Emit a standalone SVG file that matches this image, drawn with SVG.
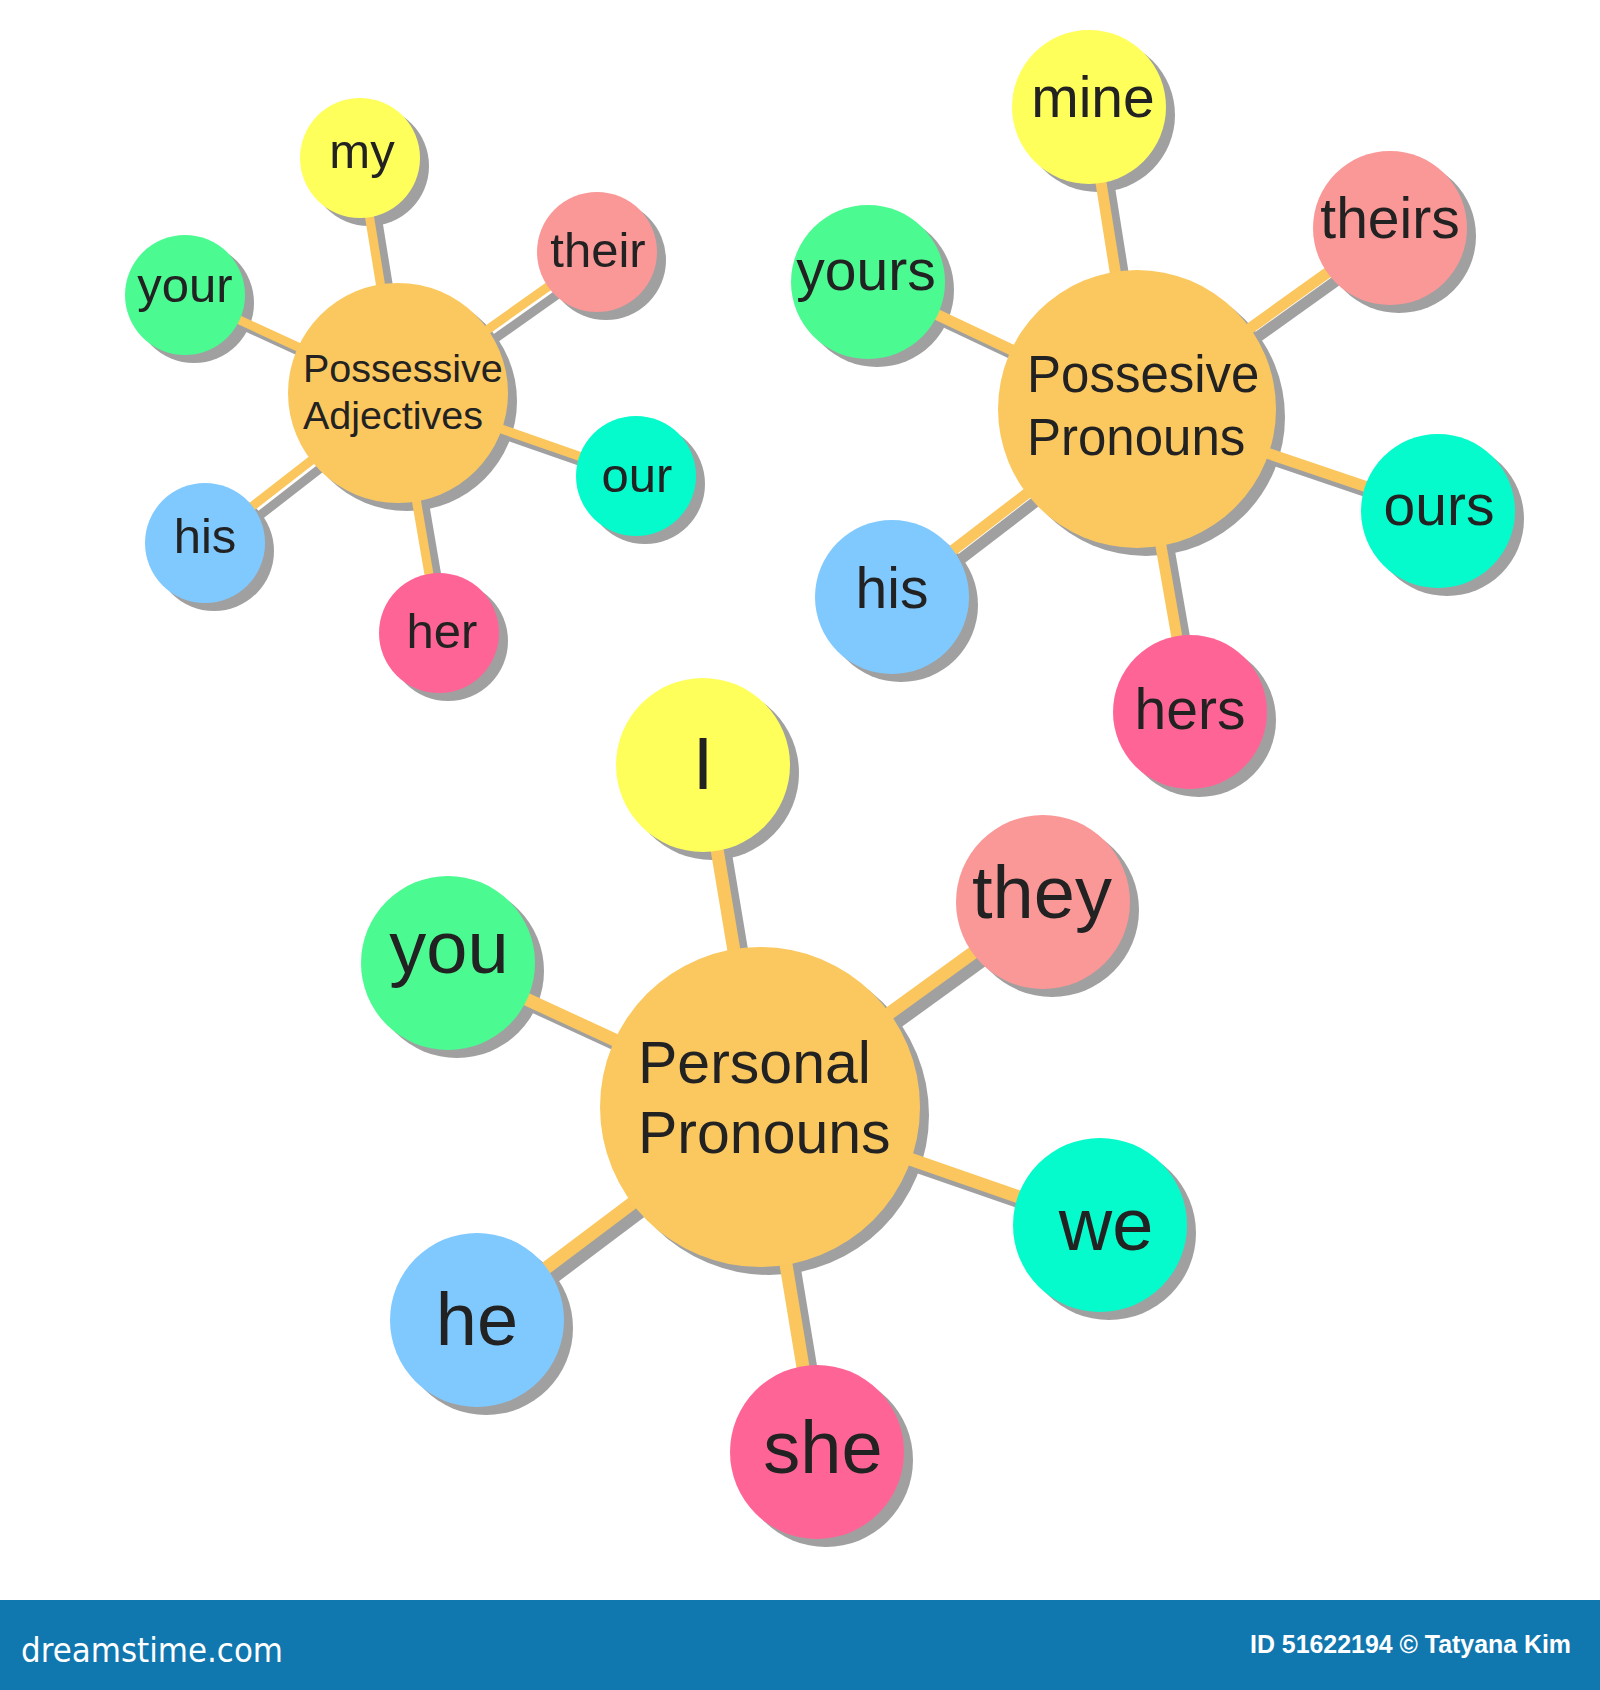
<svg xmlns="http://www.w3.org/2000/svg" width="1600" height="1690" viewBox="0 0 1600 1690">
<style>
.sh{fill:#a0a0a0}
.lsh{stroke:#a0a0a0;stroke-linecap:butt}
.ln{stroke:#fac65d;stroke-linecap:butt}
.hub{fill:#fbc85f}
.yel{fill:#ffff5c}
.sal{fill:#fa9797}
.grn{fill:#4bfa91}
.aqu{fill:#05fbcb}
.blu{fill:#80c9ff}
.mag{fill:#ff6497}
text{font-family:"Liberation Sans",Arial,sans-serif;fill:#222222}
.lA{font-size:49px;text-anchor:middle}
.lB{font-size:57px;text-anchor:middle}
.lC{font-size:74px;text-anchor:middle}
.hA{font-size:39.5px}
.hB{font-size:51px}
.hC{font-size:59px}
</style>
<rect width="1600" height="1690" fill="#ffffff"/>

<g id="shadows">
  <!-- connector shadows -->
  <g stroke-width="9" class="lsh" transform="translate(9,8)">
    <line x1="398" y1="393" x2="360" y2="158"/>
    <line x1="398" y1="393" x2="597" y2="252"/>
    <line x1="398" y1="393" x2="185" y2="295"/>
    <line x1="398" y1="393" x2="636" y2="476"/>
    <line x1="398" y1="393" x2="205" y2="543"/>
    <line x1="398" y1="393" x2="439" y2="633"/>
  </g>
  <g stroke-width="11" class="lsh" transform="translate(9,8)">
    <line x1="1137" y1="409" x2="1089" y2="107"/>
    <line x1="1137" y1="409" x2="1390" y2="228"/>
    <line x1="1137" y1="409" x2="868" y2="282"/>
    <line x1="1137" y1="409" x2="1438" y2="511"/>
    <line x1="1137" y1="409" x2="892" y2="597"/>
    <line x1="1137" y1="409" x2="1190" y2="712"/>
  </g>
  <g stroke-width="13" class="lsh" transform="translate(9,8)">
    <line x1="760" y1="1107" x2="703" y2="765"/>
    <line x1="760" y1="1107" x2="1043" y2="902"/>
    <line x1="760" y1="1107" x2="448" y2="963"/>
    <line x1="760" y1="1107" x2="1100" y2="1225"/>
    <line x1="760" y1="1107" x2="477" y2="1320"/>
    <line x1="760" y1="1107" x2="817" y2="1452"/>
  </g>
  <!-- circle shadows -->
  <g class="sh" transform="translate(9,8)">
    <circle cx="398" cy="393" r="110"/>
    <circle cx="360" cy="158" r="60"/>
    <circle cx="597" cy="252" r="60"/>
    <circle cx="185" cy="295" r="60"/>
    <circle cx="636" cy="476" r="60"/>
    <circle cx="205" cy="543" r="60"/>
    <circle cx="439" cy="633" r="60"/>
    <circle cx="1137" cy="409" r="139"/>
    <circle cx="1089" cy="107" r="77"/>
    <circle cx="1390" cy="228" r="77"/>
    <circle cx="868" cy="282" r="77"/>
    <circle cx="1438" cy="511" r="77"/>
    <circle cx="892" cy="597" r="77"/>
    <circle cx="1190" cy="712" r="77"/>
    <circle cx="760" cy="1107" r="160"/>
    <circle cx="703" cy="765" r="87"/>
    <circle cx="1043" cy="902" r="87"/>
    <circle cx="448" cy="963" r="87"/>
    <circle cx="1100" cy="1225" r="87"/>
    <circle cx="477" cy="1320" r="87"/>
    <circle cx="817" cy="1452" r="87"/>
  </g>
</g>

<g id="connectors">
  <g stroke-width="9" class="ln">
    <line x1="398" y1="393" x2="360" y2="158"/>
    <line x1="398" y1="393" x2="597" y2="252"/>
    <line x1="398" y1="393" x2="185" y2="295"/>
    <line x1="398" y1="393" x2="636" y2="476"/>
    <line x1="398" y1="393" x2="205" y2="543"/>
    <line x1="398" y1="393" x2="439" y2="633"/>
  </g>
  <g stroke-width="11" class="ln">
    <line x1="1137" y1="409" x2="1089" y2="107"/>
    <line x1="1137" y1="409" x2="1390" y2="228"/>
    <line x1="1137" y1="409" x2="868" y2="282"/>
    <line x1="1137" y1="409" x2="1438" y2="511"/>
    <line x1="1137" y1="409" x2="892" y2="597"/>
    <line x1="1137" y1="409" x2="1190" y2="712"/>
  </g>
  <g stroke-width="13" class="ln">
    <line x1="760" y1="1107" x2="703" y2="765"/>
    <line x1="760" y1="1107" x2="1043" y2="902"/>
    <line x1="760" y1="1107" x2="448" y2="963"/>
    <line x1="760" y1="1107" x2="1100" y2="1225"/>
    <line x1="760" y1="1107" x2="477" y2="1320"/>
    <line x1="760" y1="1107" x2="817" y2="1452"/>
  </g>
</g>

<!-- Possessive Adjectives cluster -->
<g id="possessive-adjectives">
  <circle class="hub" cx="398" cy="393" r="110"/>
  <text class="hA" x="303" y="382">Possessive</text>
  <text class="hA" x="303" y="429">Adjectives</text>
</g>
<g id="adj-my"><circle class="yel" cx="360" cy="158" r="60"/><text class="lA" x="362" y="168">my</text></g>
<g id="adj-their"><circle class="sal" cx="597" cy="252" r="60"/><text class="lA" x="598" y="267">their</text></g>
<g id="adj-your"><circle class="grn" cx="185" cy="295" r="60"/><text class="lA" x="185" y="302">your</text></g>
<g id="adj-our"><circle class="aqu" cx="636" cy="476" r="60"/><text class="lA" x="637" y="492">our</text></g>
<g id="adj-his"><circle class="blu" cx="205" cy="543" r="60"/><text class="lA" x="205" y="553">his</text></g>
<g id="adj-her"><circle class="mag" cx="439" cy="633" r="60"/><text class="lA" x="442" y="648">her</text></g>

<!-- Possesive Pronouns cluster -->
<g id="possessive-pronouns">
  <circle class="hub" cx="1137" cy="409" r="139"/>
  <text class="hB" x="1027" y="392">Possesive</text>
  <text class="hB" x="1027" y="455">Pronouns</text>
</g>
<g id="pro-mine"><circle class="yel" cx="1089" cy="107" r="77"/><text class="lB" x="1093" y="117">mine</text></g>
<g id="pro-theirs"><circle class="sal" cx="1390" cy="228" r="77"/><text class="lB" x="1390" y="238">theirs</text></g>
<g id="pro-yours"><circle class="grn" cx="868" cy="282" r="77"/><text class="lB" x="866" y="290">yours</text></g>
<g id="pro-ours"><circle class="aqu" cx="1438" cy="511" r="77"/><text class="lB" x="1439" y="525">ours</text></g>
<g id="pro-his"><circle class="blu" cx="892" cy="597" r="77"/><text class="lB" x="892" y="608">his</text></g>
<g id="pro-hers"><circle class="mag" cx="1190" cy="712" r="77"/><text class="lB" x="1190" y="729">hers</text></g>

<!-- Personal Pronouns cluster -->
<g id="personal-pronouns">
  <circle class="hub" cx="760" cy="1107" r="160"/>
  <text class="hC" x="638" y="1083">Personal</text>
  <text class="hC" x="638" y="1153">Pronouns</text>
</g>
<g id="per-i"><circle class="yel" cx="703" cy="765" r="87"/><text class="lC" x="703" y="789">I</text></g>
<g id="per-they"><circle class="sal" cx="1043" cy="902" r="87"/><text class="lC" x="1042" y="918">they</text></g>
<g id="per-you"><circle class="grn" cx="448" cy="963" r="87"/><text class="lC" x="449" y="973">you</text></g>
<g id="per-we"><circle class="aqu" cx="1100" cy="1225" r="87"/><text class="lC" x="1106" y="1250">we</text></g>
<g id="per-he"><circle class="blu" cx="477" cy="1320" r="87"/><text class="lC" x="477" y="1345">he</text></g>
<g id="per-she"><circle class="mag" cx="817" cy="1452" r="87"/><text class="lC" x="823" y="1473">she</text></g>

<!-- footer -->
<g id="footer">
  <rect x="0" y="1600" width="1600" height="90" fill="#1177af"/>
  <text x="21" y="1662" font-size="34" textLength="262" lengthAdjust="spacingAndGlyphs" style="fill:#ffffff;font-family:'DejaVu Sans','Liberation Sans',sans-serif">dreamstime.com</text>
  <text x="1250" y="1653" font-size="25" font-weight="bold" textLength="321" lengthAdjust="spacingAndGlyphs" style="fill:#ffffff">ID 51622194 © Tatyana Kim</text>
</g>
</svg>
